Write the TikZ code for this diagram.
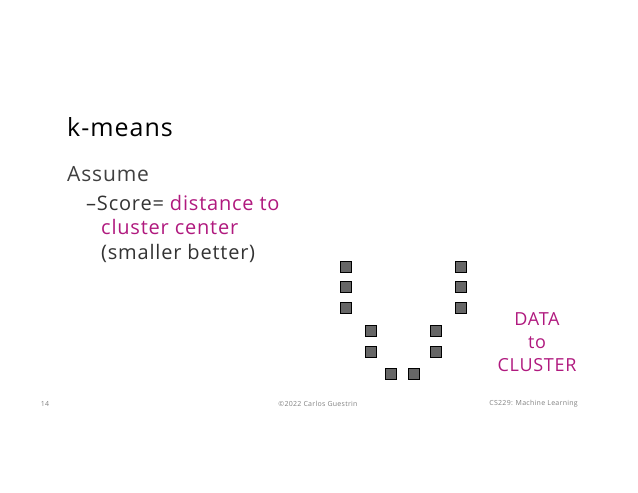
\documentclass[tikz,border=0pt]{standalone}
\usepackage{fontspec}
\setmainfont{Open Sans}[LetterSpace=4]
\definecolor{mag}{HTML}{B0197E}
\definecolor{sq}{HTML}{666666}
\begin{document}
\begin{tikzpicture}[x=1pt,y=-1pt,
  pt/.style={draw=black,fill=sq,minimum size=11.5pt,inner sep=0pt,line width=0.9pt},
  foot/.style={text=gray,font=\fontsize{7}{8}\selectfont,inner sep=0pt}]
\useasboundingbox (0,0) rectangle (638,493);
\node[anchor=west,inner sep=0pt,font=\fontsize{25}{28}\selectfont] (t) at (67,127) {k-means};
\node[anchor=west,inner sep=0pt,font=\fontsize{21}{24}\selectfont,text=black!75] (a) at (67,174) {Assume};
\node[anchor=north west,inner sep=0pt,align=left,font=\fontsize{20}{24.5}\selectfont,text=black!80] (s) at (86,195)
 {–Score= \textcolor{mag}{distance to}\\\hspace*{15pt}\textcolor{mag}{cluster center}\\\hspace*{15pt}(smaller better)};
\foreach \n/\x/\y in {1/346/267,2/346/287,3/346/308,4/371/331,5/371/352,6/391/374,7/414/374,8/436/331,9/436/352,10/461/267,11/461/287,12/461/308}
  \node[pt] (p\n) at (\x,\y) {};
\node[align=center,text=mag,font=\fontsize{18}{23}\selectfont,inner sep=0pt] (d) at (537,342) {DATA\\to\\CLUSTER};
\node[foot] (n) at (45,404) {14};
\node[foot] (c) at (318,404) {©2022 Carlos Guestrin};
\node[foot,anchor=east] (m) at (578,404) {CS229: Machine Learning};
\end{tikzpicture}
\end{document}
